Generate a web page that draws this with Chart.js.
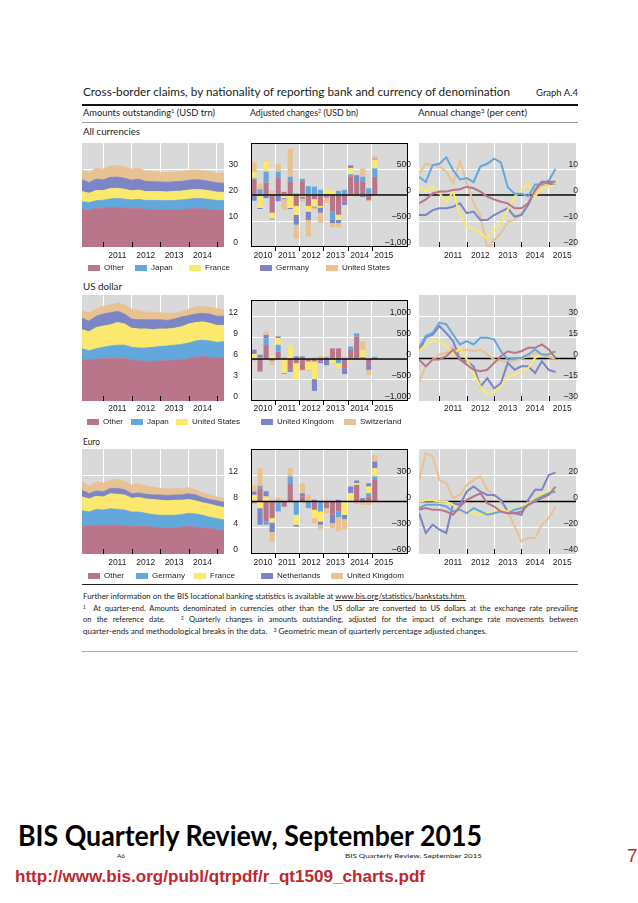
<!DOCTYPE html>
<html><head><meta charset="utf-8"><title>Cross-border claims</title>
<script src="https://cdn.jsdelivr.net/npm/chart.js@4.4.1/dist/chart.umd.min.js"></script>
<style>
html,body{margin:0;padding:0;background:#fff;}
body{position:relative;width:638px;height:903px;overflow:hidden;}
.rule{position:absolute;left:82px;width:496px;}
.sup{font-size:0.62em;vertical-align:0.5em;line-height:0;}
</style></head><body>
<div class="rule" style="top:104px;height:1.5px;background:#111"></div>
<div class="rule" style="top:122px;height:1px;background:#9a9a9a"></div>
<div class="rule" style="top:584px;height:1.2px;background:#222"></div>
<div class="rule" style="top:651px;height:1px;background:#aaa"></div>
<script>
// ---------------- DATA ----------------
const quarters = ['2010Q1','2010Q2','2010Q3','2010Q4','2011Q1','2011Q2','2011Q3','2011Q4','2012Q1','2012Q2','2012Q3','2012Q4','2013Q1','2013Q2','2013Q3','2013Q4','2014Q1','2014Q2','2014Q3','2014Q4','2015Q1'];

const namesAll = ['Other','Japan','France','Germany','United States'];
const namesUsd = ['Other','Japan','United States','United Kingdom','Switzerland'];
const namesEur = ['Other','Germany','France','Netherlands','United Kingdom'];

// Amounts outstanding (USD trn)
const amtAllOther   = [14.5,14.3,14.8,14.9,15.2,15.3,15.0,14.8,14.9,14.5,14.4,14.3,14.2,14.3,14.4,14.6,14.8,14.7,14.5,14.2,14.1];
const amtAllJapan   = [2.9,2.8,3.0,3.1,3.3,3.4,3.4,3.3,3.4,3.4,3.5,3.6,3.6,3.6,3.7,3.8,3.9,3.9,3.8,3.7,3.7];
const amtAllFrance  = [3.9,3.6,3.9,3.7,4.0,3.9,3.8,3.5,3.6,3.4,3.4,3.4,3.4,3.5,3.4,3.5,3.4,3.4,3.3,3.2,3.2];
const amtAllGermany = [4.6,4.1,4.4,4.2,4.3,4.3,4.2,4.1,4.2,3.9,3.8,3.7,3.7,3.7,3.7,3.8,3.8,3.7,3.6,3.6,3.5];
const amtAllUS      = [3.8,3.7,4.3,4.1,4.5,4.3,4.4,4.3,4.2,4.0,3.8,3.7,3.7,3.7,3.8,3.8,3.7,3.6,3.7,3.8,3.8];

const amtUsdOther = [5.9,5.8,5.9,6.0,6.0,6.1,6.0,5.8,5.7,5.6,5.6,5.7,5.7,5.8,5.8,6.0,6.2,6.3,6.2,6.1,6.1];
const amtUsdJapan = [1.5,1.3,1.5,1.6,1.8,1.8,1.9,1.8,1.8,1.9,2.0,2.0,2.1,2.1,2.2,2.2,2.3,2.3,2.3,2.2,2.3];
const amtUsdUS    = [2.7,2.7,3.0,3.0,3.0,3.2,3.0,2.7,2.7,2.7,2.5,2.5,2.4,2.4,2.5,2.7,2.6,2.6,2.5,2.4,2.3];
const amtUsdUK    = [1.6,1.5,1.6,1.7,1.7,1.6,1.4,1.3,1.3,1.3,1.4,1.3,1.2,1.3,1.4,1.2,1.2,1.2,1.3,1.3,1.3];
const amtUsdCH    = [1.1,1.2,1.0,1.1,1.1,1.2,1.3,1.4,1.3,1.1,1.0,1.0,1.0,0.8,0.7,0.9,1.0,1.0,1.0,1.1,0.9];

const amtEurOther       = [4.2,4.3,4.4,4.4,4.4,4.4,4.3,4.2,4.2,4.2,4.1,4.0,4.0,4.0,4.1,4.2,4.1,4.0,3.9,3.7,3.6];
const amtEurGermany     = [2.4,2.1,2.4,2.3,2.5,2.4,2.4,2.2,2.2,2.0,1.9,1.9,1.9,1.9,1.9,2.0,2.0,1.9,1.7,1.7,1.6];
const amtEurFrance      = [2.1,2.0,2.0,2.0,2.3,2.3,2.3,2.1,2.2,2.2,2.3,2.3,2.2,2.3,2.2,2.1,2.0,1.9,2.0,1.9,1.9];
const amtEurNetherlands = [1.0,0.8,0.8,0.8,0.8,0.9,0.8,0.7,0.7,0.7,0.7,0.8,0.8,0.8,0.8,0.9,0.9,0.8,0.7,0.8,0.8];
const amtEurUK          = [1.3,1.2,1.4,1.3,1.3,1.4,1.3,1.3,1.4,1.3,1.2,1.0,1.0,1.0,1.0,0.9,0.8,0.7,0.7,0.6,0.6];

// Adjusted changes (USD bn)
const chgAllOther   = [290,-20,240,-340,340,60,250,-210,250,-210,-80,-210,-30,-320,-380,-130,360,250,250,-100,350];
const chgAllJapan   = [30,110,210,0,110,0,100,30,60,170,160,100,20,-160,80,100,40,0,100,130,160];
const chgAllFrance  = [120,-230,210,-110,0,-60,-250,-170,-30,-110,-140,-30,80,80,-100,0,120,0,-20,0,170];
const chgAllGermany = [-110,-20,-60,-20,-120,-20,-20,-190,-40,-160,-20,-100,-20,-60,-60,-60,50,130,-20,0,20];
const chgAllUS      = [190,110,20,80,150,-200,540,-275,-60,-320,-40,-190,-100,-80,-80,0,-20,-30,160,-20,50];

const chgUsdOther = [-30,-300,330,-40,175,30,-250,-100,-260,-60,-60,-60,40,250,250,-220,215,530,40,-140,0];
const chgUsdJapan = [0,40,160,0,160,0,0,0,0,0,0,30,0,0,-100,30,80,80,0,0,50];
const chgUsdUS    = [120,0,0,90,160,-330,330,-380,0,-200,-420,0,0,-100,-120,0,-40,-20,175,0,0];
const chgUsdUK    = [100,60,80,0,40,-20,-60,60,60,0,-280,-40,-150,0,0,-140,0,0,0,-120,0];
const chgUsdCH    = [0,0,80,-100,0,0,0,0,-20,-20,40,40,20,0,0,0,0,0,200,-120,0];

const chgEurOther       = [-20,150,-228,-190,0,-60,210,0,57,0,-95,0,-76,-152,-114,0,0,190,0,57,247];
const chgEurGermany     = [0,30,-38,0,-114,0,76,-152,0,-76,0,-114,0,0,-65,0,0,0,0,38,38];
const chgEurFrance      = [76,-76,57,-50,0,0,0,-114,0,0,-95,-114,0,0,0,-152,95,20,0,76,95];
const chgEurNetherlands = [38,-190,60,-110,0,0,0,-20,38,0,20,-38,0,-95,20,-50,76,30,38,38,76];
const chgEurUK          = [76,200,0,-114,40,0,95,0,114,76,-57,-57,-57,-57,-160,-120,0,-30,-40,-40,76];

// Annual change (per cent)
const pctAllOther   = [-3.2,-1.7,0.6,1.3,1.3,1.9,2.2,3.2,2.6,1.3,-0.6,-1.7,-2.6,-3.2,-5.1,-5.1,-3.2,1.9,5.1,5.1,5.1];
const pctAllJapan   = [7,5,11.5,12,14.5,9.5,6,6.5,5,11,12,14,12.5,3,0.5,0.5,-0.5,4,4,5.5,10];
const pctAllFrance  = [3.2,1.3,3.2,0.6,-2.6,1.3,-7.7,-12.2,-12.8,-14.7,-16.7,-13.5,-10.3,-5.8,-0.6,1.9,4.5,-0.6,2.6,3.2,3.8];
const pctAllGermany = [-7.7,-7.7,-5.8,-5.1,-5.1,-4.5,-3.2,-7,-6.4,-9.6,-9.6,-7.7,-6.4,-5.1,-8.3,-7.7,-3.8,1.9,5.1,4.5,3.8];
const pctAllUS      = [8,12,11.5,11,9,4.5,13,4.5,-3,-8,-20.5,-17.3,-14.7,-10.3,-9.6,-7,-3,1,3.5,4,4];

const pctUsdOther = [-0.7,-5.5,-0.7,-0.7,1.7,6.4,-0.7,-4.3,-7.9,-9,-7.9,-3.1,1.7,5.2,4,5.2,7.6,7.6,10,6.4,0.5];
const pctUsdJapan = [7.6,16,18.3,25.5,24.3,17,10,12.4,10,14.8,14.8,13.6,5.2,-0.7,0,0.5,2.9,6.4,2.9,2.9,5.2];
const pctUsdUS    = [5.2,10,12.4,12.4,8.8,2.9,7.6,-0.7,-10.2,-19.8,-25.7,-23.3,-19.8,-12.6,-11.4,-9,-6.7,0.5,3,4,3];
const pctUsdUK    = [5,15,17,23,18,12.4,-0.7,-2,-5.5,-19.8,-13.8,-21,-17.4,-3,-7.9,-5.5,-5.5,-10.2,-1.9,-8,-9.5];
const pctUsdCH    = [-16.2,-5.5,-0.7,2.9,4,8.8,5.2,6.4,5.2,6.4,2.9,-0.7,-1.5,-2.5,-1.5,0,2,4,3,1,0];

const pctEurOther       = [-6.3,-5,-6.3,-6.3,-7.6,-10.1,-3.8,1.3,3.8,6.3,-1.3,-3.8,-7.6,-8.9,-8.9,-7.6,-2.5,0,2.5,5,11.4];
const pctEurGermany     = [-5,-2.5,-2.5,-2.5,-3.8,-7.6,-6.3,-8.9,-5,-7.6,-10.1,-8.9,-7.6,-8.9,-6.3,-5,-2.5,1.3,3.8,6.3,7.6];
const pctEurFrance      = [0,0.8,0.8,0,0,-2.5,-7.6,-7.6,-8.9,-10.1,-8.9,-7.6,-6.3,-7.6,-6.3,-3.8,-1.3,2.5,6.3,7.6,7.6];
const pctEurNetherlands = [-8.9,-24,-17.7,-21.5,-24,-1.3,-2.5,7.6,11.4,7.6,5,5,1.3,-7.6,-8.9,-10.1,1.3,8.9,8.9,20.2,22];
const pctEurUK          = [16.4,36.7,34.2,16.4,13.9,2.5,5,12.6,16.4,19,8.9,5,0,-7.6,-19,-30.4,-27.8,-27.8,-17.7,-12.7,-3.8];

// Tick labels
const yTicksAmtAll = [0,10,20,30];
const yTicksAmtUsd = [0,3,6,9,12];
const yTicksAmtEur = [0,4,8,12];
const yTicksChgAll = [-1000,-500,0,500];
const yTicksChgUsd = [-1000,-500,0,500,1000];
const yTicksChgEur = [-600,-300,0,300];
const yTicksPctAll = [-20,-10,0,10];
const yTicksPctUsd = [-30,-15,0,15,30];
const yTicksPctEur = [-40,-20,0,20];
const yearsAmt = ['2011','2012','2013','2014'];
const yearsChg = ['2010','2011','2012','2013','2014','2015'];
const yearsPct = ['2011','2012','2013','2014','2015'];
const gridYearsAmt = [2011,2012,2013,2014,2015];
const gridYearsChg = [2010,2011,2012,2013,2014,2015];
const gridYearsPct = [2011,2012,2013,2014,2015];

// ---------------- STYLE / HELPERS ----------------
const palette = ['#b9768a','#63a8dc','#fbe86c','#7c85c5','#e8c292'];
const GREY = '#d9d9d9';
const SANS = "'Liberation Sans', Arial, sans-serif";
const HUM = "Lato, 'Open Sans', sans-serif";
const PAD = 16;

Chart.defaults.font.family = SANS;
Chart.defaults.font.size = 8.5;
Chart.defaults.color = '#222';

function qEnd(q){ return +q.slice(0,4) + (+q.slice(5))/4; }
function qMid(q){ return +q.slice(0,4) + (+q.slice(5) - 0.5)/4; }
function fmt(v){ const s = String(Math.abs(v)).replace(/\B(?=(\d{3})+(?!\d))/g, ','); return (v<0?'\u2013':'') + s; }

function put(html, x, cy, size, opt) {
  opt = opt || {};
  const d = document.createElement('div');
  d.innerHTML = html;
  const lh = size * 1.2;
  d.style.cssText = 'position:absolute;white-space:nowrap;transform-origin:0 50%;' +
    'left:' + x + 'px;top:' + (cy - lh/2).toFixed(2) + 'px;font-family:' + (opt.font||HUM) +
    ';font-size:' + size + 'px;line-height:' + lh + 'px;color:' + (opt.color||'#1b1b1b') +
    ';font-weight:' + (opt.weight||400) + ';';
  document.body.appendChild(d);
  if (opt.w) { const nw = d.getBoundingClientRect().width; if (nw > 0) d.style.transform = 'scaleX(' + (opt.w/nw).toFixed(4) + ')'; }
  return d;
}
function justLine(html, x, cy, size, w) {
  const d = put(html, x, cy, size);
  const nw = d.getBoundingClientRect().width;
  if (nw > w) { d.style.transform = 'scaleX(' + (w/nw).toFixed(4) + ')'; }
  else { d.style.whiteSpace = 'normal'; d.style.width = w + 'px'; d.style.textAlign = 'justify'; d.style.textAlignLast = 'justify'; }
}

function zeroLine(chart){
  const a = chart.chartArea, ctx = chart.ctx, y = chart.scales.y.getPixelForValue(0);
  ctx.save(); ctx.strokeStyle = '#000'; ctx.lineWidth = 1.5;
  ctx.beginPath(); ctx.moveTo(a.left, y); ctx.lineTo(a.right, y); ctx.stroke(); ctx.restore();
}
const deco = {
  id: 'deco',
  beforeDraw(chart){
    const a = chart.chartArea, ctx = chart.ctx;
    ctx.save(); ctx.fillStyle = GREY; ctx.fillRect(a.left, a.top, a.right - a.left, a.bottom - a.top); ctx.restore();
  },
  beforeDatasetsDraw(chart, args, o){ if (o.zero === 'under') zeroLine(chart); },
  afterDatasetsDraw(chart, args, o){
    const a = chart.chartArea, ctx = chart.ctx, xs = chart.scales.x;
    if (o.zero === 'over') zeroLine(chart);
    ctx.save(); ctx.strokeStyle = '#000'; ctx.lineWidth = 1;
    xs.ticks.forEach(t => {
      if (t.value <= xs.min || t.value >= xs.max) return;
      const px = Math.round(xs.getPixelForValue(t.value)) + 0.5;
      ctx.beginPath();
      if (o.outTicks) { ctx.moveTo(px, a.bottom); ctx.lineTo(px, a.bottom + 4); }
      else { ctx.moveTo(px, a.bottom); ctx.lineTo(px, a.bottom - 5); }
      ctx.stroke();
    });
    if (o.frame) ctx.strokeRect(a.left + 0.5, a.top + 0.5, a.right - a.left - 1, a.bottom - a.top - 1);
    ctx.restore();
  }
};

function areaSets(series, names){
  return series.map((vals, i) => ({ label: names[i], data: quarters.map((q, j) => ({x: qEnd(q), y: vals[j]})),
    backgroundColor: palette[i], borderColor: palette[i], borderWidth: 0.8, pointRadius: 0, fill: i === 0 ? 'origin' : '-1', tension: 0 }));
}
function barSets(series, names){
  return series.map((vals, i) => ({ label: names[i], data: quarters.map((q, j) => ({x: qMid(q), y: vals[j]})),
    backgroundColor: palette[i], borderWidth: 0, barPercentage: 0.85, categoryPercentage: 1 }));
}
function lineSets(series, names){
  return series.map((vals, i) => ({ label: names[i], data: quarters.map((q, j) => ({x: qEnd(q), y: vals[j]})),
    borderColor: palette[i], borderWidth: 2, pointRadius: 0, fill: false, tension: 0 }));
}

function panel(p){
  const W = p.yw, H = 14;
  const c = document.createElement('canvas');
  const cw = p.w + 2*PAD + W, ch = p.h + 2*PAD + H;
  c.width = cw; c.height = ch;
  c.style.cssText = 'position:absolute;left:' + (p.x - PAD) + 'px;top:' + (p.y - PAD) + 'px;width:' + cw + 'px;height:' + ch + 'px;';
  document.body.appendChild(c);
  return new Chart(c, {
    type: p.type,
    data: { datasets: p.datasets },
    options: {
      responsive: false, maintainAspectRatio: false, animation: false, devicePixelRatio: 1, events: [],
      layout: { padding: PAD },
      plugins: { legend: {display: false}, tooltip: {enabled: false}, deco: p.deco },
      scales: {
        x: { type: 'linear', position: 'bottom', min: p.xmin, max: p.xmax, offset: false, stacked: p.type === 'bar',
          afterBuildTicks: s => { s.ticks = p.gridYears.map(v => ({value: v})); },
          afterFit: s => { s.height = H; },
          grid: { color: '#fff', lineWidth: 1, drawTicks: false, offset: false },
          border: { display: false },
          ticks: { autoSkip: false, maxRotation: 0, minRotation: 0, padding: p.xpad, labelOffset: p.xoff, color: '#222',
            callback: v => p.years.includes(String(v)) ? String(v) : '' } },
        y: { type: 'linear', position: 'right', min: p.ymin, max: p.ymax, stacked: p.stacked,
          afterBuildTicks: s => { s.ticks = p.yticks.map(v => ({value: v})); },
          afterFit: s => { s.width = W; },
          grid: { color: '#fff', lineWidth: 1, drawTicks: false },
          border: { display: false },
          ticks: { mirror: p.mirror, padding: p.ypad, crossAlign: p.mirror ? 'near' : 'far', labelOffset: -4, color: '#222',
            callback: v => fmt(v) } }
      }
    },
    plugins: [deco]
  });
}

function legend(items, cy){
  items.forEach(([name, ci, tx]) => {
    const s = document.createElement('div');
    s.style.cssText = 'position:absolute;left:' + (tx - 16) + 'px;top:' + (cy - 3) + 'px;width:12px;height:6px;background:' + palette[ci] + ';';
    document.body.appendChild(s);
    put(name, tx, cy, 8, {font: SANS, color: '#222'});
  });
}

// ---------------- TEXT ----------------
put('Cross-border claims, by nationality of reporting bank and currency of denomination', 83, 92, 12, {w: 427});
put('Graph A.4', 536, 93, 8.5, {w: 42});
put('Amounts outstanding<span class="sup">1</span> (USD trn)', 83, 113, 8.5, {w: 132});
put('Adjusted changes<span class="sup">2</span> (USD bn)', 250, 113, 8.5, {w: 108});
put('Annual change<span class="sup">3</span> (per cent)', 418, 113, 8.5, {w: 109});
put('All currencies', 83, 132, 8.5, {w: 57});
put('US dollar', 83, 287, 8.5, {w: 39});
put('Euro', 83, 442, 8.5, {w: 17});

put('Further information on the BIS locational banking statistics is available at <u>www.bis.org/statistics/bankstats.htm.</u>', 83, 596, 7.5, {w: 383});
justLine('<span class="sup">1</span>&nbsp; At quarter-end. Amounts denominated in currencies other than the US dollar are converted to US dollars at the exchange rate prevailing', 83, 608, 7.5, 495);
justLine('on the reference date. &nbsp;&nbsp;<span class="sup">2</span> Quarterly changes in amounts outstanding, adjusted for the impact of exchange rate movements between', 83, 619.5, 7.5, 495);
put('quarter-ends and methodological breaks in the data. &nbsp;&nbsp;<span class="sup">3</span> Geometric mean of quarterly percentage adjusted changes.', 83, 631, 7.5, {w: 404});

put('BIS Quarterly Review, September 2015', 18, 835, 29, {weight: 700, w: 464, color: '#000'});
put('A6', 117, 856, 6, {w: 8});
put('BIS Quarterly Review, September 2015', 345, 856, 6, {w: 137});
put('7', 627, 856, 19, {font: SANS, color: '#c0282d'});
put('http://www.bis.org/publ/qtrpdf/r_qt1509_charts.pdf', 15, 877, 17, {font: SANS, weight: 700, color: '#c0282d', w: 410});

// ---------------- PANELS ----------------
const colL = {x: 82, w: 142}, colM = {x: 251, w: 157}, colR = {x: 419, w: 157};

// Row 1: all currencies
panel(Object.assign({}, colL, {type: 'line', y: 143, h: 104, yw: 14, xmin: 2010.25, xmax: 2015.25, gridYears: gridYearsAmt, years: yearsAmt,
  xpad: 4, xoff: 14, ymin: 0, ymax: 40, yticks: yTicksAmtAll, stacked: true, mirror: false, ypad: 3, deco: {},
  datasets: areaSets([amtAllOther, amtAllJapan, amtAllFrance, amtAllGermany, amtAllUS], namesAll)}));
panel(Object.assign({}, colM, {type: 'bar', y: 143, h: 104, yw: 0, xmin: 2010, xmax: 2016.5, gridYears: gridYearsChg, years: yearsChg,
  xpad: 4, xoff: 12, ymin: -1000, ymax: 1000, yticks: yTicksChgAll, stacked: true, mirror: true, ypad: 3, deco: {zero: 'over', frame: true, outTicks: true},
  datasets: barSets([chgAllOther, chgAllJapan, chgAllFrance, chgAllGermany, chgAllUS], namesAll)}));
panel(Object.assign({}, colR, {type: 'line', y: 143, h: 104, yw: 0, xmin: 2010.25, xmax: 2016, gridYears: gridYearsPct, years: yearsPct,
  xpad: 4, xoff: 13.6, ymin: -20, ymax: 20, yticks: yTicksPctAll, stacked: false, mirror: true, ypad: 2, deco: {zero: 'under'},
  datasets: lineSets([pctAllOther, pctAllJapan, pctAllFrance, pctAllGermany, pctAllUS], namesAll)}));

// Row 2: US dollar
panel(Object.assign({}, colL, {type: 'line', y: 295, h: 106, yw: 14, xmin: 2010.25, xmax: 2015.25, gridYears: gridYearsAmt, years: yearsAmt,
  xpad: 3, xoff: 14, ymin: 0, ymax: 15, yticks: yTicksAmtUsd, stacked: true, mirror: false, ypad: 3, deco: {},
  datasets: areaSets([amtUsdOther, amtUsdJapan, amtUsdUS, amtUsdUK, amtUsdCH], namesUsd)}));
panel(Object.assign({}, colM, {type: 'bar', y: 300, h: 101, yw: 0, xmin: 2010, xmax: 2016.5, gridYears: gridYearsChg, years: yearsChg,
  xpad: 3, xoff: 12, ymin: -1000, ymax: 1400, yticks: yTicksChgUsd, stacked: true, mirror: true, ypad: 3, deco: {zero: 'over', frame: true, outTicks: true},
  datasets: barSets([chgUsdOther, chgUsdJapan, chgUsdUS, chgUsdUK, chgUsdCH], namesUsd)}));
panel(Object.assign({}, colR, {type: 'line', y: 295, h: 106, yw: 0, xmin: 2010.25, xmax: 2016, gridYears: gridYearsPct, years: yearsPct,
  xpad: 3, xoff: 13.6, ymin: -30, ymax: 45, yticks: yTicksPctUsd, stacked: false, mirror: true, ypad: 2, deco: {zero: 'under'},
  datasets: lineSets([pctUsdOther, pctUsdJapan, pctUsdUS, pctUsdUK, pctUsdCH], namesUsd)}));

// Row 3: euro
panel(Object.assign({}, colL, {type: 'line', y: 449, h: 105, yw: 14, xmin: 2010.25, xmax: 2015.25, gridYears: gridYearsAmt, years: yearsAmt,
  xpad: 4, xoff: 14, ymin: 0, ymax: 16, yticks: yTicksAmtEur, stacked: true, mirror: false, ypad: 3, deco: {},
  datasets: areaSets([amtEurOther, amtEurGermany, amtEurFrance, amtEurNetherlands, amtEurUK], namesEur)}));
panel(Object.assign({}, colM, {type: 'bar', y: 449, h: 105, yw: 0, xmin: 2010, xmax: 2016.5, gridYears: gridYearsChg, years: yearsChg,
  xpad: 4, xoff: 12, ymin: -600, ymax: 600, yticks: yTicksChgEur, stacked: true, mirror: true, ypad: 3, deco: {zero: 'over', frame: true, outTicks: true},
  datasets: barSets([chgEurOther, chgEurGermany, chgEurFrance, chgEurNetherlands, chgEurUK], namesEur)}));
panel(Object.assign({}, colR, {type: 'line', y: 449, h: 105, yw: 0, xmin: 2010.25, xmax: 2016, gridYears: gridYearsPct, years: yearsPct,
  xpad: 4, xoff: 13.6, ymin: -40, ymax: 40, yticks: yTicksPctEur, stacked: false, mirror: true, ypad: 2, deco: {zero: 'under'},
  datasets: lineSets([pctEurOther, pctEurGermany, pctEurFrance, pctEurNetherlands, pctEurUK], namesEur)}));

// ---------------- LEGENDS ----------------
legend([[namesAll[0],0,104],[namesAll[1],1,151],[namesAll[2],2,205],[namesAll[3],3,276],[namesAll[4],4,342]], 268);
legend([[namesUsd[0],0,103],[namesUsd[1],1,147],[namesUsd[2],2,192],[namesUsd[3],3,277],[namesUsd[4],4,360]], 422);
legend([[namesEur[0],0,104],[namesEur[1],1,152],[namesEur[2],2,210],[namesEur[3],3,277],[namesEur[4],4,347]], 576);
</script>
</body></html>
